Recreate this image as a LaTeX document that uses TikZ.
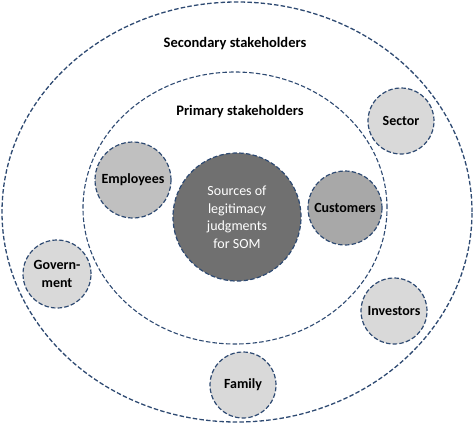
\documentclass[tikz,border=0pt]{standalone}
\usepackage{fontspec}
\setmainfont{Carlito}
\usetikzlibrary{shapes.geometric}
\definecolor{ringblue}{HTML}{2E4A72}
\definecolor{lightg}{HTML}{D9D9D9}
\definecolor{midg}{HTML}{C0C0C0}
\definecolor{darkg}{HTML}{A8A8A8}
\definecolor{coreg}{HTML}{707070}
\tikzset{
  ring/.style={draw=ringblue, line width=1.3pt, dash pattern=on 4.5pt off 2.2pt},
  bubble/.style={circle, draw=ringblue, line width=1.2pt, dash pattern=on 4.5pt off 2.2pt, inner sep=0pt, align=center, font=\bfseries\fontsize{14}{18}\selectfont, text=black},
  lbl/.style={font=\bfseries\fontsize{14.5}{16}\selectfont, text=black}
}
\begin{document}
\begin{tikzpicture}[x=1pt,y=-1pt]
\useasboundingbox (0,0) rectangle (474,424);
\node[ellipse, ring, minimum width=470pt, minimum height=420pt, inner sep=0pt] (outer) at (237,212) {};
\node[ellipse, ring, line width=1.1pt, minimum width=304pt, minimum height=272pt, inner sep=0pt] (inner) at (235,208) {};
\node[lbl] (sec) at (235,44) {Secondary stakeholders};
\node[lbl] (pri) at (240,112) {Primary stakeholders};
\node[bubble, fill=coreg, minimum size=128pt, text=white, font=\fontsize{14}{17.5}\selectfont] (core) at (237,217) {Sources of\\legitimacy\\judgments\\for SOM};
\node[bubble, fill=midg, minimum size=76pt] (emp) at (133,180) {Employees};
\node[bubble, fill=darkg, minimum size=74pt] (cus) at (345,208) {Customers};
\node[bubble, fill=lightg, minimum size=66pt] (sect) at (401,121) {Sector};
\node[bubble, fill=lightg, minimum size=68pt] (gov) at (57,274) {Govern-\\ment};
\node[bubble, fill=lightg, minimum size=66pt] (inv) at (394,311) {Investors};
\node[bubble, fill=lightg, minimum size=66pt] (fam) at (243,385) {Family};
\end{tikzpicture}
\end{document}
